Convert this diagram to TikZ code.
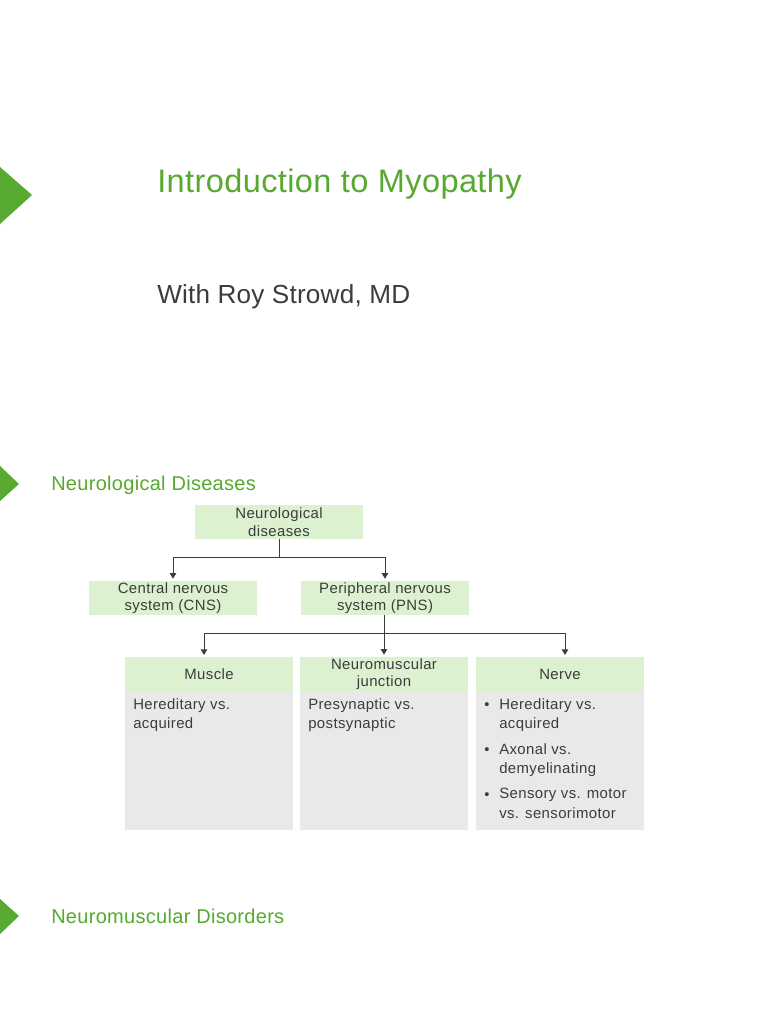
\documentclass[tikz,border=0pt]{standalone}
\usepackage{fontspec}
\setmainfont{Liberation Sans}
\newfontfamily\bodyfont[LetterSpace=2.6]{Liberation Sans}
\newfontfamily\headfont[LetterSpace=1.5]{Liberation Sans}
\newfontfamily\titlefont[LetterSpace=1.2]{Liberation Sans}
\newfontfamily\subfont[LetterSpace=0.8]{Liberation Sans}
\usetikzlibrary{arrows.meta}
\definecolor{brandgreen}{HTML}{57A92F}
\definecolor{lightgreen}{HTML}{DCF1D0}
\definecolor{panelgray}{HTML}{E9E9E9}
\definecolor{inktext}{HTML}{3C3C3C}
\tikzset{
  x=0.75pt,y=-0.75pt,
  greenbox/.style={fill=lightgreen,minimum width=126pt,minimum height=25.5pt,inner sep=0pt,align=center,text=inktext,font=\bodyfont\fontsize{11.2}{13}\selectfont},
  graybox/.style={fill=panelgray,minimum width=126pt,minimum height=104.25pt,inner sep=0pt},
  bodytext/.style={anchor=north west,inner sep=0pt,align=left,text=inktext,font=\bodyfont\fontsize{11.2}{14.6}\selectfont},
  bullet/.style={anchor=base west,inner sep=0pt,text=inktext,font=\fontsize{11}{13}\selectfont},
  heading/.style={anchor=base west,inner sep=0pt,text=brandgreen,font=\headfont\fontsize{15}{17}\selectfont},
  connector/.style={draw=inktext,line width=0.75pt},
  arrowline/.style={connector,-{Triangle[length=4.2pt,width=4.8pt]},shorten >=1.5pt},
  marker/.style={fill=brandgreen,draw=none}
}
\begin{document}
\begin{tikzpicture}
\useasboundingbox (0,0) rectangle (768,1024);
\fill[white] (0,0) rectangle (768,1024);
% markers
\fill[marker] (0,167) -- (32,195) -- (0,224) -- cycle;
\fill[marker] (0,466) -- (19,484) -- (0,501) -- cycle;
\fill[marker] (0,899) -- (19,916) -- (0,934) -- cycle;
% titles
\node[heading,font=\titlefont\fontsize{24.4}{28}\selectfont] (title) at (157,192) {Introduction to Myopathy};
\node[anchor=base west,inner sep=0pt,text=inktext,font=\subfont\fontsize{19.6}{24}\selectfont] (sub) at (157,303) {With Roy Strowd, MD};
\node[heading] (h1) at (51,490) {Neurological Diseases};
\node[heading] (h2) at (51,923) {Neuromuscular Disorders};
% boxes
\node[greenbox,font=\bodyfont\fontsize{11.2}{14}\selectfont] (neuro) at (279,522) {Neurological\\diseases};
\node[greenbox] (cns) at (173,598) {Central nervous\\system (CNS)};
\node[greenbox] (pns) at (385,598) {Peripheral nervous\\system (PNS)};
\node[greenbox] (muscle) at (209,674) {Muscle};
\node[greenbox] (nmj) at (384,674) {Neuromuscular\\junction};
\node[greenbox] (nerve) at (560,674) {Nerve};
\node[graybox] (mp) at (209,760.5) {};
\node[graybox] (np) at (384,760.5) {};
\node[graybox] (rp) at (560,760.5) {};
\node[bodytext] (t1) at (133,698) {Hereditary vs.\\acquired};
\node[bodytext] (t2) at (308,698) {Presynaptic vs.\\postsynaptic};
\node[bullet] (b1) at (484,709) {•};
\node[bodytext] (t3) at (499,698) {Hereditary vs.\\acquired};
\node[bullet] (b2) at (484,754) {•};
\node[bodytext] (t4) at (499,743) {Axonal vs.\\demyelinating};
\node[bullet] (b3) at (484,799) {•};
\node[bodytext] (t5) at (499,788) {Sensory vs. motor\\vs. sensorimotor};
% connectors
\coordinate (busa) at (279,557);
\coordinate (busb) at (384,633);
\coordinate (mtop) at (204,657);
\coordinate (ntop) at (565,657);
\draw[connector] (neuro.south) -- (busa);
\draw[arrowline] (busa) -| (cns.north);
\draw[arrowline] (busa) -| (pns.north);
\draw[arrowline] (busb |- pns.south) -- (busb |- nmj.north);
\draw[arrowline] (busb) -| (mtop);
\draw[arrowline] (busb) -| (ntop);
\end{tikzpicture}
\end{document}
